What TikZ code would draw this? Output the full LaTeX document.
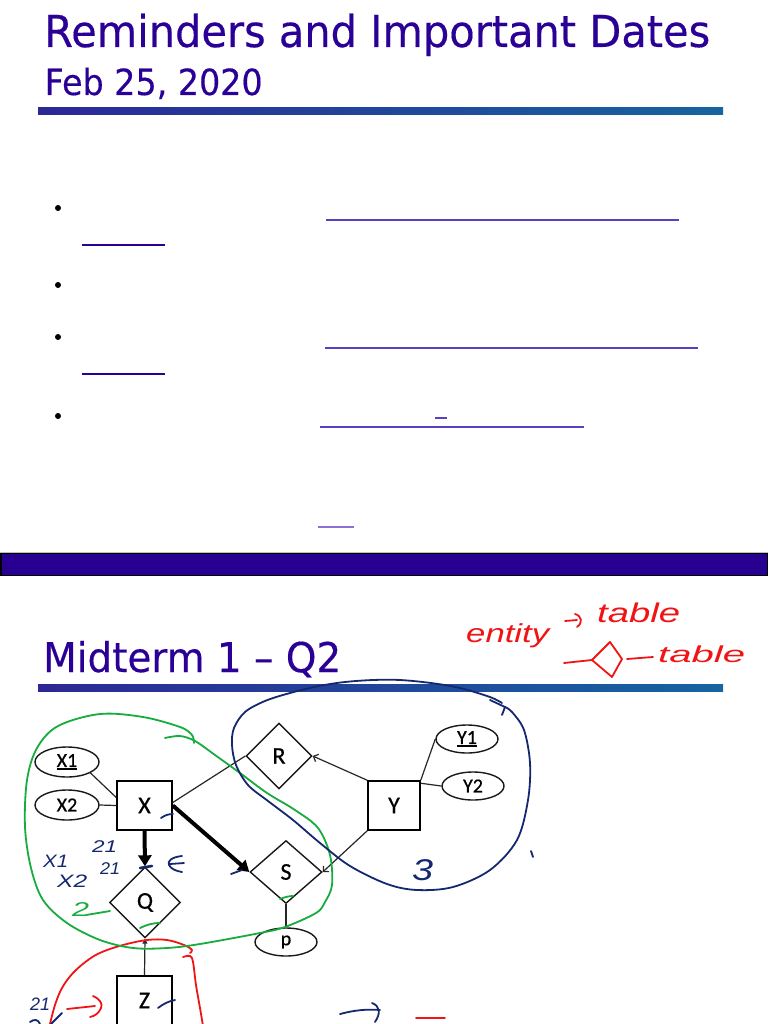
\documentclass[tikz,border=0pt]{standalone}
\usepackage{fontspec}
\usepackage{graphicx}
\usetikzlibrary{shapes.geometric,arrows.meta}
\newfontfamily\titlefont[FakeBold=0.35]{DejaVu Sans}
\newfontfamily\erfont[FakeBold=0.6]{Carlito}
\newfontfamily\inkfont{Liberation Sans}
\definecolor{titleblue}{RGB}{42,0,150}
\definecolor{bandblue}{RGB}{40,0,145}
\definecolor{barleft}{RGB}{44,40,150}
\definecolor{barright}{RGB}{22,100,160}
\definecolor{linkA}{RGB}{92,62,192}
\definecolor{linkB}{RGB}{40,0,150}
\definecolor{linkC}{RGB}{140,112,212}
\definecolor{inknavy}{RGB}{20,40,112}
\definecolor{inkgreen}{RGB}{22,172,62}
\definecolor{inkred}{RGB}{240,20,20}
\newcommand{\fitw}[3]{\resizebox{#1}{\height}{\fontsize{#2}{#2}\selectfont #3}}
\newcommand{\inkw}[3]{\resizebox{#1}{\height}{\fontsize{#2}{#2}\selectfont\inkfont\itshape #3}}
\newcommand{\thul}[1]{{\setbox0\hbox{#1}\rlap{\rule[-3pt]{\wd0}{2.4pt}}\box0}}
\begin{document}
\begin{tikzpicture}[x=1pt,y=-1pt,
  ent/.style={draw=black,line width=1.5pt,minimum width=55pt,minimum height=49pt,inner sep=0pt,font={\erfont\fontsize{24pt}{26pt}\selectfont}},
  rel/.style={diamond,draw=black!90,line width=1.4pt,inner sep=0pt,font={\erfont\fontsize{24pt}{26pt}\selectfont}},
  attr/.style={ellipse,draw=black!90,line width=1.4pt,minimum width=64pt,minimum height=30pt,inner sep=0pt,font={\erfont\fontsize{20pt}{22pt}\selectfont}},
  conn/.style={draw=black!85,line width=1.2pt},
  boldarrow/.style={line width=4pt,-{Triangle[length=11pt,width=13pt]}},
  openarrow/.style={conn,-{Straight Barb[length=4pt,width=8pt]}},
  link/.style={line width=2.6pt},
  inkline/.style={line width=1.8pt,line cap=round,line join=round},
  lbl/.style={anchor=base west,inner sep=0pt}]
\useasboundingbox (0,0) rectangle (768,1024);
\fill[white] (0,0) rectangle (768,1024);

% ---- slide 1 ----
\node[lbl,text=titleblue] (title) at (44,47) {\fitw{666pt}{44pt}{\titlefont Reminders and Important Dates}};
\node[lbl,text=titleblue] (date) at (44.5,95) {\fitw{218pt}{36pt}{\titlefont Feb 25, 2020}};
\shade[left color=barleft,right color=barright] (38,107.5) rectangle (723,114.5);

\foreach \yy in {208,285,337,416} \fill[black] (58,\yy) circle (3);
\draw[link,linkA] (326,220) -- (679,220);
\draw[link,linkB] (82,245) -- (165,245);
\draw[link,linkA] (325,348) -- (698,348);
\draw[link,linkB] (82,374) -- (165,374);
\draw[link,linkA] (435,418) -- (447,418);
\draw[link,linkA] (320,427) -- (584,427);
\draw[link,linkC] (318,527) -- (354,527);

% ---- band ----
\draw[black!25,line width=1pt] (0,552) -- (768,552);
\draw[fill=bandblue,draw=black,line width=1.5pt] (0.75,553.5) rectangle (767.25,575.25);

% ---- slide 2 ----
\node[lbl,text=titleblue] (mid) at (43,672) {\fitw{298pt}{41pt}{\titlefont Midterm 1 – Q2}};
\shade[left color=barleft,right color=barright] (38,684) rectangle (723,691);

% ER diagram
\node[ent] (X) at (144.5,805.5) {X};
\node[ent,minimum width=52pt] (Y) at (394,805.5) {Y};
\node[ent] (Z) at (144.5,1000.5) {Z};
\node[rel,minimum width=66pt,minimum height=66pt] (R) at (279,756) {R};
\node[rel,minimum width=72pt,minimum height=63pt] (S) at (286,872) {S};
\node[rel,minimum width=71pt,minimum height=71pt] (Q) at (145,902.5) {Q};
\node[attr] (X1) at (67,762) {\thul{X1}};
\node[attr] (X2) at (67,805) {X2};
\node[attr,minimum width=62pt,minimum height=28pt] (Y1) at (467,739) {\thul{Y1}};
\node[attr,minimum width=62pt,minimum height=28pt] (Y2) at (473,786) {Y2};
\node[attr,minimum width=62pt,minimum height=28pt] (P) at (286,942) {p};

\draw[conn] (X1.-25) -- ([yshift=8pt]X.west);
\draw[conn] (X2.east) -- (X.west);
\draw[conn] ([yshift=3pt]X.east) -- (R.west);
\draw[boldarrow] (X.east) -- (S.west);
\draw[boldarrow] (X.south) -- (Q.north);
\draw[conn,-{Triangle[length=5pt,width=5pt]}] (Z.north) -- (Q.south);
\draw[openarrow] (Y.north west) -- (R.east);
\draw[openarrow] (Y.south west) -- (S.east);
\draw[conn] (Y.north east) -- (Y1.west);
\draw[conn] ([yshift=-3pt]Y.north east) -- (Y2.west);
\draw[conn] (S.south) -- (P.north);

% ---- red ink ----
\node[lbl,text=inkred] (entity) at (466,642) {\inkw{83pt}{26pt}{entity}};
\node[lbl,text=inkred] (tableA) at (597,622) {\inkw{83pt}{27pt}{table}};
\node[lbl,text=inkred] (tableB) at (658,662) {\inkw{87pt}{23pt}{table}};
\draw[inkline,inkred] (565,621) -- (577,620);
\draw[inkline,inkred] (575,614) .. controls (582,616) and (583,623) .. (577,627);
\draw[inkline,inkred] (564,663) -- (592,660) -- (610,642) -- (622,659) -- (612,677) -- (592,660);
\draw[inkline,inkred] (627,659) -- (653,657);
\draw[inkline,inkred] plot[smooth,tension=0.6] coordinates {(50,1024) (55,1005) (62,988) (73,973) (88,960) (102,952) (123,945) (147,940) (167,940) (184,945) (192,950) (190,953)};
\draw[inkline,inkred] plot[smooth,tension=0.6] coordinates {(183,957) (190,956) (193,962) (196,985) (200,1008) (203,1026)};
\draw[inkline,inkred] (67,1009) -- (95,1006);
\draw[inkline,inkred] (93,996) .. controls (100,999) and (103,1004) .. (101,1008) .. controls (99,1013) and (95,1016) .. (90,1017);
\draw[inkline,inkred] (416,1018) -- (445,1018);

% ---- green ink ----
\draw[inkline,inkgreen] plot[smooth,tension=0.55] coordinates {(165,738) (180,736) (195,741) (215,755) (240,773) (267,793) (295,810) (318,828) (330,855) (332,885) (325,902) (316,913) (285,927) (260,933) (200,944) (167,948) (133,948) (100,940) (67,923) (43,900) (31,868) (25,827) (27,780) (37,748) (58,726) (100,714) (143,717) (180,727) (192,735) (194,743)};
\node[lbl,text=inkgreen] (two) at (72,916) {\inkw{17pt}{20pt}{2}};
\draw[inkline,inkgreen] (86,915) -- (110,911);
\draw[inkline,inkgreen] (140,928) .. controls (146,925) and (152,923) .. (160,923);
\draw[inkline,inkgreen] (280,899) .. controls (285,897) and (289,896) .. (293,896);

% ---- navy ink ----
\draw[inkline,inknavy] plot[smooth,tension=0.55] coordinates {(502,703) (490,697) (460,688) (431,683) (400,680) (373,680) (345,682) (319,686) (290,693) (265,701) (245,712) (234,728) (232,745) (236,765) (248,785) (268,801) (293,820) (320,843) (350,866) (387,884) (417,890) (453,887) (490,870) (517,840) (528,800) (530,763) (524,730) (512,712) (505,707)};
\draw[inkline,inknavy] (490,700) -- (505,707) -- (502,715);
\node[lbl,text=inknavy] (three) at (412,880) {\inkw{21pt}{30pt}{3}};
\draw[inkline,inknavy] (531,851) -- (533,857);
\node[lbl,text=inknavy] (n21a) at (92,852) {\inkw{25pt}{17pt}{21}};
\node[lbl,text=inknavy] (n21b) at (100,874) {\inkw{20pt}{17pt}{21}};
\node[lbl,text=inknavy] (nx1) at (43,867) {\inkw{25pt}{18pt}{X1}};
\node[lbl,text=inknavy] (nx2) at (57,887) {\inkw{30pt}{18pt}{X2}};
\node[lbl,text=inknavy] (n21c) at (30,1010) {\inkw{20pt}{18pt}{21}};
\draw[inkline,inknavy] (182,856) .. controls (172,857) and (167,861) .. (169,865) .. controls (171,869) and (176,871) .. (182,872);
\draw[inkline,inknavy] (170,864) -- (184,863);
\draw[inkline,inknavy,line width=2.6pt] (140,868) -- (152,866);
\draw[inkline,inknavy] (161,818) .. controls (165,815) and (169,814) .. (173,814);
\draw[inkline,inknavy] (231,874) -- (242,870);
\draw[inkline,inknavy] (158,1008) .. controls (163,1004) and (169,1001) .. (175,1000);
\draw[inkline,inknavy] (30,1022) .. controls (34,1019) and (38,1019) .. (40,1024);
\draw[inkline,inknavy] (62,1013) -- (51,1024);
\draw[inkline,inknavy] (340,1014) .. controls (355,1010) and (367,1009) .. (380,1010);
\draw[inkline,inknavy] (372,1003) .. controls (380,1006) and (381,1013) .. (375,1022);
\end{tikzpicture}
\end{document}
